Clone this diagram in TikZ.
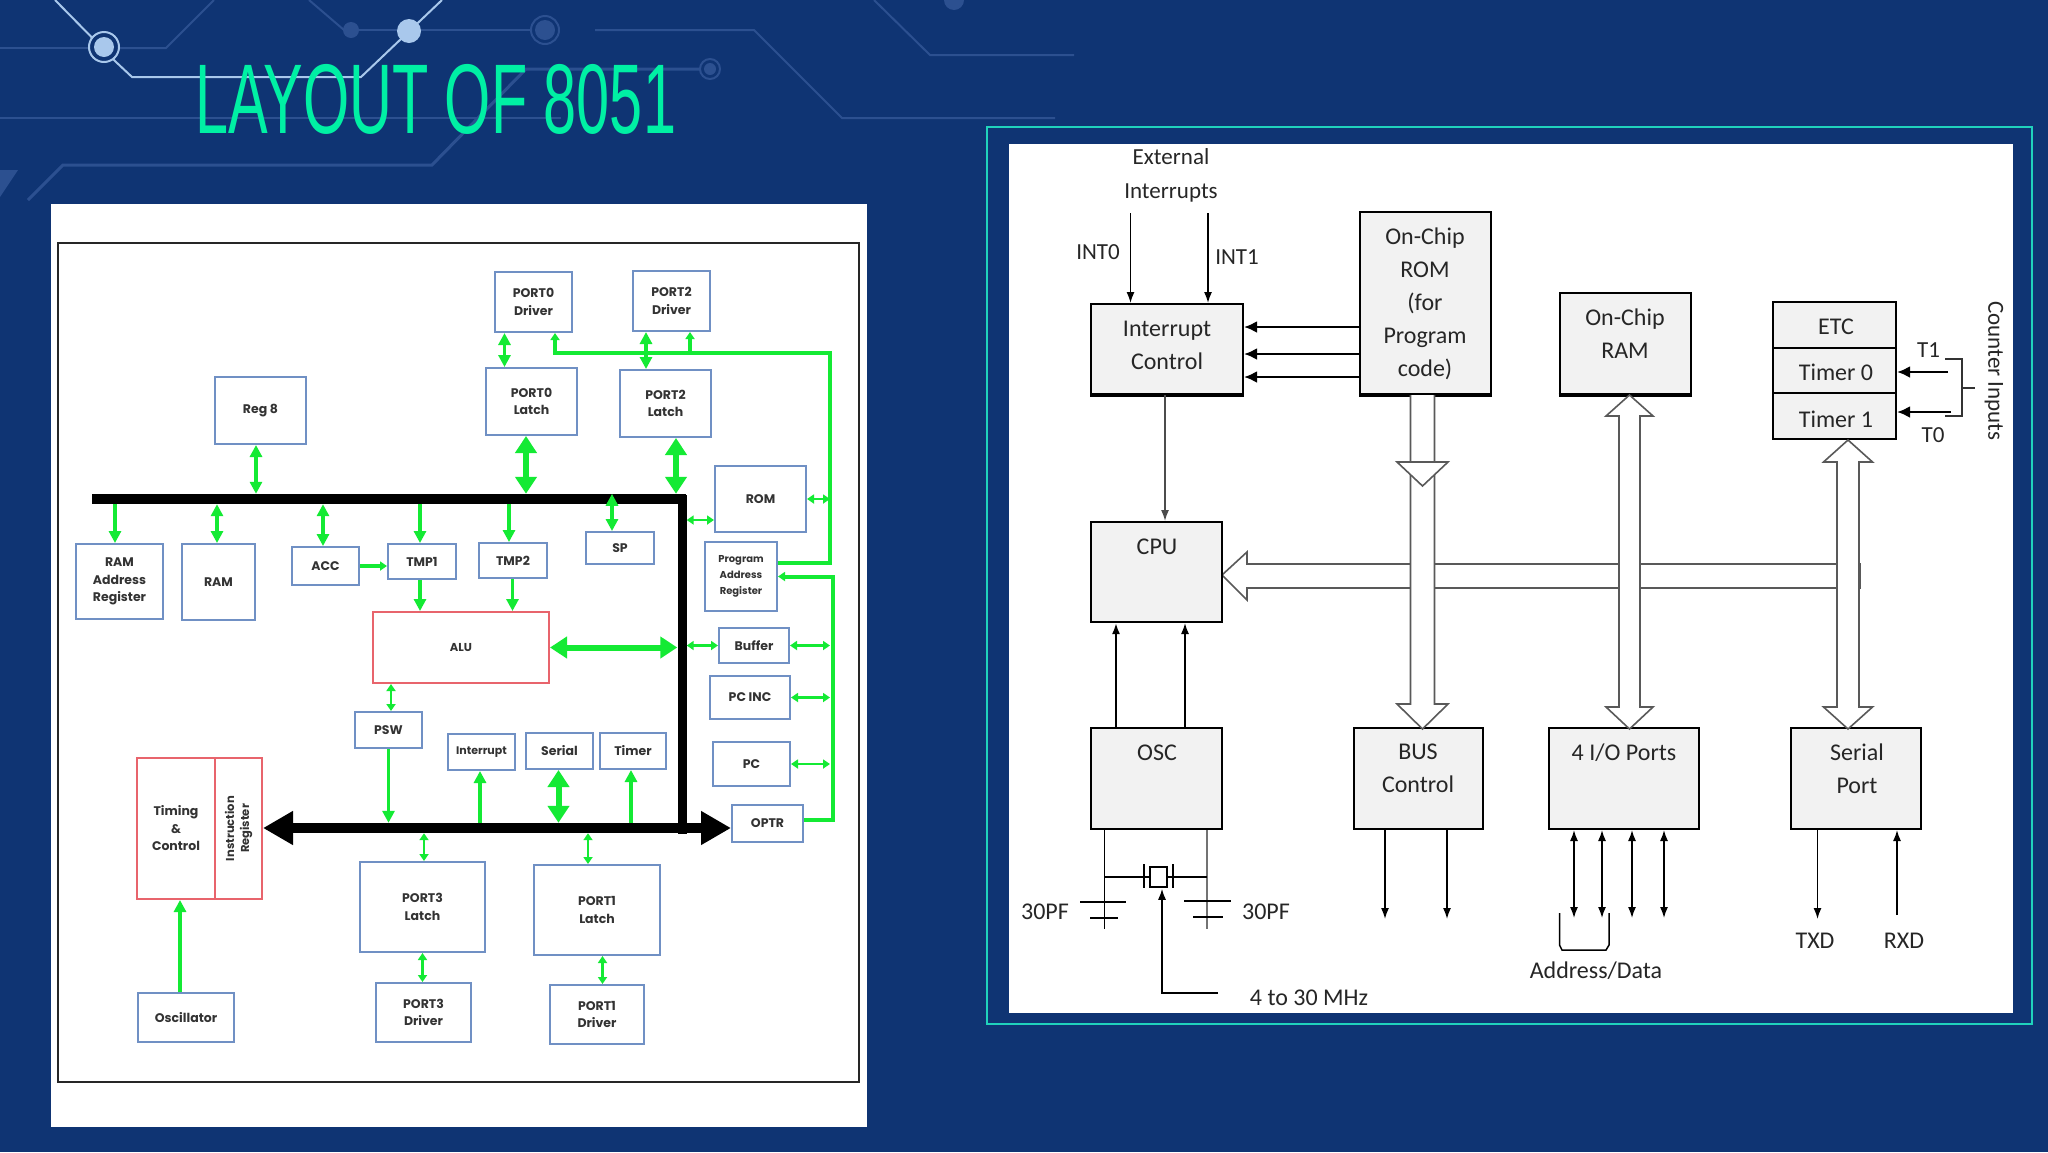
\documentclass[tikz,border=0pt]{standalone}
\usepackage{fontspec}
\usetikzlibrary{arrows.meta, calc}

\newfontfamily\titlefont{Liberation Sans}[FakeStretch=0.6]
\newfontfamily\gothicfont{Poppins}
\newfontfamily\carlitofont{Carlito}

\definecolor{slideBlue}{HTML}{0F3473}
\definecolor{traceDim}{HTML}{2C5090}
\definecolor{traceLit}{HTML}{A9C8EC}
\definecolor{titleGreen}{HTML}{00F0A4}
\definecolor{frameTeal}{HTML}{20D2BC}
\definecolor{boxBlue}{HTML}{7090C4}
\definecolor{boxRed}{HTML}{E8646C}
\definecolor{busGreen}{HTML}{14EA34}

\tikzset{
  GS/.tip={Triangle[length=12pt,width=12pt]},
  GL/.tip={Triangle[length=17pt,width=21pt]},
  GT/.tip={Triangle[length=7pt,width=9pt]},
  BK/.tip={Latex[length=11pt,width=8pt]},
  BB/.tip={Latex[length=13pt,width=12pt]},
  lbox/.style={draw=boxBlue, fill=white, line width=2pt, inner sep=0pt, align=center, text=black!80,
    font=\gothicfont\bfseries\fontsize{12.5}{17.5}\selectfont},
  rbox/.style={draw=black, fill=black!5, line width=2pt, inner sep=0pt},
  rtext/.style={inner sep=0pt, align=center, text=black!85, font=\carlitofont\fontsize{24}{33}\selectfont},
  gline/.style={draw=busGreen, line width=3.5pt},
  gthin/.style={draw=busGreen, line width=2.5pt},
  gthick/.style={draw=busGreen, line width=6pt},
  hollow/.style={draw=black!65, fill=white, line width=1.6pt},
  wire/.style={draw=black, line width=1.5pt},
  trdim/.style={draw=traceDim, line width=2pt},
  trlit/.style={draw=traceLit, line width=2pt},
}

\begin{document}
\begin{tikzpicture}[x=1pt, y=-1pt]
  \fill[slideBlue] (0,0) rectangle (2048,1152);
  \useasboundingbox (0,0) rectangle (2048,1152);

  % Circuit traces behind the title
  \draw[trdim] (0,48) -- (91,48);
  \draw[trdim] (118,48) -- (166,48) -- (214,0);
  \draw[trdim] (309,0) -- (344,30);
  \draw[trdim] (351,30) -- (530,30);
  \draw[trdim] (595,30) -- (754,30) -- (842,118) -- (1055,118);
  \draw[trdim] (0,118) -- (561,118);
  \draw[trdim, line width=3pt] (28,200) -- (63,165) -- (432,165) -- (526,69) -- (700,69);
  \draw[trdim] (874,0) -- (930,55) -- (1074,55);
  \fill[traceDim] (0,170) -- (18,170) -- (0,197) -- cycle;
  \fill[traceDim] (351,30) circle (8);
  \draw[traceDim, line width=2pt, fill=slideBlue] (545,30) circle (14);
  \fill[traceDim] (545,30) circle (10);
  \draw[traceDim, line width=2pt] (710,69) circle (10);
  \fill[traceDim] (710,69) circle (6);
  \fill[traceDim] (954,0) circle (10);
  \draw[trlit] (55,0) -- (116,62) -- (132,77) -- (361,77) -- (442,0);
  \draw[traceLit, line width=2pt, fill=slideBlue] (104,47) circle (15);
  \fill[traceLit] (104,47) circle (10);
  \fill[traceLit] (409,31) circle (12);

  % Title
  \node[anchor=base west, inner sep=0pt, text=titleGreen, font=\titlefont\fontsize{99}{99}\selectfont] (title) at (195,133) {LAYOUT OF 8051};

  % Left panel
  \fill[white] (51,204) rectangle (867,1127);
  \draw[black!85, line width=2.5pt] (58,243) rectangle (859,1082);

  % Blue boxes
  \foreach \nm/\cx/\cy/\bw/\bh/\txt in {
    port0drv/533.5/302/77/60/{PORT0\\Driver}, port2drv/671.5/301/77/60/{PORT2\\Driver},
    port0lat/531.5/401.5/91/67/{PORT0\\Latch}, port2lat/665.5/403.5/91/67/{PORT2\\Latch},
    reg8/260.5/410.5/91/67/{Reg 8}, lrom/760.5/499/91/66/{ROM},
    buffer/754/645.5/70/35/{Buffer},
    ramadr/119.5/581.5/87/75/{RAM\\Address\\Register}, lram/218.5/582/73/76/{RAM},
    acc/325.5/566/67/38/{ACC}, tmp1/422/561.5/68/35/{TMP1}, tmp2/513/560.5/68/35/{TMP2},
    spreg/620/548/68/32/{SP}, pcinc/750/697.5/80/43/{PC INC}, pcreg/751.5/764/77/44/{PC},
    optr/767.5/823.5/71/37/{OPTR}, psw/388.5/730/67/36/{PSW},
    serial/559.5/751/67/36/{Serial}, timer/633/751/66/36/{Timer},
    port3lat/422.5/907/125/90/{PORT3\\Latch}, port1lat/597/910/126/90/{PORT1\\Latch},
    port3drv/423.5/1012.5/95/59/{PORT3\\Driver}, port1drv/597/1014.5/94/59/{PORT1\\Driver},
    oscil/186/1017.5/96.5/49/{Oscillator}} {
    \node[lbox, minimum width=\bw pt, minimum height=\bh pt] (\nm) at (\cx,\cy) {\txt};
  }
  \node[lbox, minimum width=72pt, minimum height=69pt, font=\gothicfont\bfseries\fontsize{10}{16}\selectfont] (par) at (741,576.5) {Program\\Address\\Register};
  \node[lbox, minimum width=67pt, minimum height=36pt, font=\gothicfont\bfseries\fontsize{11}{14}\selectfont] (intr) at (481.5,752) {Interrupt};

  % Red boxes
  \node[lbox, draw=boxRed, minimum width=176pt, minimum height=71pt, font=\gothicfont\bfseries\fontsize{11.5}{14}\selectfont] (alu) at (461,647.5) {ALU};
  \node[lbox, draw=boxRed, minimum width=77.5pt, minimum height=141pt] (timing) at (176,828.5) {Timing\\\&\\Control};
  \node[lbox, draw=boxRed, minimum width=47pt, minimum height=141pt] (instr) at (238.5,828.5) {};
  \node[rotate=90, inner sep=0pt, align=center, text=black!80, font=\gothicfont\bfseries\fontsize{11.5}{15}\selectfont] (instrtxt) at (instr.center) {Instruction\\Register};

  % Black buses
  \node[fill=black, inner sep=0pt, minimum width=594pt, minimum height=10pt] (busT) at (389,499) {};
  \node[fill=black, inner sep=0pt, minimum width=9pt, minimum height=339pt] (busV) at (682,664) {};
  \node[fill=black, inner sep=0pt, minimum width=410pt, minimum height=10pt] (busL) at (495,828) {};
  \draw[line width=10pt, -{Triangle[length=30pt,width=32pt]}] (busL.west) -- (instr.east |- busL.west);
  \draw[line width=10pt, -{Triangle[length=30pt,width=32pt]}] (busL.east) -- (optr.west |- busL.east);

  % Green rails on the right
  \coordinate (railTop) at (830,353);
  \coordinate (railLow) at (833,577);
  \draw[gline, line width=4pt, GT-] ([xshift=21.5pt]port0drv.south) |- (railTop) |- ([yshift=13.5pt]par.east);
  \draw[gline, line width=4pt, GT-] (par.east) -| (railLow) |- ([yshift=3.5pt]optr.east);
  \draw[gline, GT-] ([xshift=18.5pt]port2drv.south) -- ([xshift=18.5pt]port2drv.south |- railTop);

  % Green vertical arrows
  \foreach \from/\to/\dx/\sty in {
    port0drv.south/port0lat.north/-29/GS-GS, port2drv.south/port2lat.north/-25.5/GS-GS,
    reg8.south/busT.north/-4.5/GS-GS, ramadr.north/busT.south/-4.5/GS-,
    lram.north/busT.south/-1.5/GS-GS, acc.north/busT.south/-2.5/GS-GS,
    tmp1.north/busT.south/-2/GS-, tmp2.north/busT.south/-4/GS-,
    spreg.north/busT.north/-8/GS-GS, tmp1.south/alu.north/-2/-GS, tmp2.south/alu.north/-0.5/-GS,
    psw.south/busL.north/0/-GS, intr.south/busL.north/-1.5/GS-, timer.south/busL.north/-2/GS-,
    oscil.north/timing.south/-6/-GS} {
    \draw[gline, \sty] ([xshift=\dx pt]\from) -- ([xshift=\dx pt]\from |- \to);
  }
  \foreach \from/\to/\dx in {
    port0lat.south/busT.north/-5.5, port2lat.south/busT.north/10.5, serial.south/busL.north/-1} {
    \draw[gthick, GL-GL] ([xshift=\dx pt]\from) -- ([xshift=\dx pt]\from |- \to);
  }
  \foreach \from/\to/\dx in {
    psw.north/alu.south/2.5, port3lat.north/busL.south/1.5, port1lat.north/busL.south/-9,
    port3lat.south/port3drv.north/0, port1lat.south/port1drv.north/5.5} {
    \draw[gthin, GT-GT] ([xshift=\dx pt]\from) -- ([xshift=\dx pt]\from |- \to);
  }

  % Green horizontal arrows
  \draw[gline, -GT] (acc.east) -- (tmp1.west |- acc.east);
  \draw[gthick, GL-GL] (alu.east) -- (busV.west |- alu.east);
  \draw[gthin, GT-GT] (busV.east |- 0,520) -- (lrom.west |- 0,520);
  \draw[gthin, GT-GT] (busV.east |- buffer.west) -- (buffer.west);
  \foreach \from in {lrom, buffer, pcinc, pcreg} {
    \draw[gthin, GT-GT] (\from.east) -- (\from.east -| railTop);
  }

  % Right panel
  \fill[white] (1009,144) rectangle (2013,1013);
  \draw[frameTeal, line width=2pt] (987,127) rectangle (2032,1024);

  % Hollow bus between CPU and the blocks
  \draw[hollow] (1860,564) -- (1247,564) -- (1247,552) -- (1222,575) -- (1247,600) -- (1247,588) -- (1860,588) -- cycle;

  % Grey boxes of the block diagram
  \foreach \nm/\cx/\cy/\bw/\bh in {
    ic/1167/349/152/90, rom/1425.5/303/131/182, oram/1625/343.5/131/101,
    etc/1834.5/325/123/46, tmr0/1834.5/370.5/123/45, tmr1/1834.5/416/123/46,
    cpu/1156.5/572/131/100, osc/1156.5/778.5/131/101, busc/1418.5/778.5/129/101,
    ports/1624/778.5/150/101, ser/1856/778.5/130/101} {
    \node[rbox, minimum width=\bw pt, minimum height=\bh pt] (\nm) at (\cx,\cy) {};
  }
  \foreach \bx in {ic, rom, oram} {
    \draw[line width=4pt] (\bx.south west) -- (\bx.south east);
  }
  \node[rtext] (ictxt) at (1167,345.5) {Interrupt\\Control};
  \node[rtext] (romtxt) at (1425,303.5) {On-Chip\\ROM\\(for\\Program\\code)};
  \node[rtext] (oramtxt) at (1625,333.5) {On-Chip\\RAM};
  \node[rtext] (etctxt) at (1836,327) {ETC};
  \node[rtext] (tmr0txt) at (1836,372) {Timer 0};
  \node[rtext] (tmr1txt) at (1836,419) {Timer 1};
  \node[rtext] (cputxt) at (1157,547) {CPU};
  \node[rtext] (osctxt) at (1157,753) {OSC};
  \node[rtext] (busctxt) at (1418,768.5) {BUS\\Control};
  \node[rtext] (portstxt) at (1624,753) {4 I/O Ports};
  \node[rtext] (sertxt) at (1857,768.5) {Serial\\Port};

  % Hollow vertical arrows
  \draw[hollow] ([xshift=-15pt]rom.south) -- ++(0,309) -- ++(-13.5,0) -- ++(25.5,25) -- ++(25.5,-25) -- ++(-13.5,0) -- ([xshift=9pt]rom.south);
  \draw[hollow] ([xshift=-28.5pt]rom.south) ++(0,67) -- ++(25.5,24) -- ++(25.5,-24) -- cycle;
  \draw[hollow, fill=white] (oram.south) ++(4.5,0) -- ++(23.5,21) -- ++(-13,0) -- ++(0,291) -- ++(13,0) -- ++(-23.5,22) -- ++(-23.5,-22) -- ++(13,0) -- ++(0,-291) -- ++(-13,0) -- cycle;
  \draw[hollow, fill=white] (tmr1.south) ++(13.5,0) -- ++(24.5,22) -- ++(-13.5,0) -- ++(0,245) -- ++(13.5,0) -- ++(-24.5,22) -- ++(-24.5,-22) -- ++(13.5,0) -- ++(0,-245) -- ++(-13.5,0) -- cycle;

  % External interrupts
  \node[rtext, font=\carlitofont\fontsize{23}{34}\selectfont] (extint) at (1171,175) {External\\Interrupts};
  \coordinate (int0in) at (1130.5,213);
  \coordinate (int1in) at (1208,213);
  \draw[wire, -BK] (int0in) -- (int0in |- ic.north);
  \draw[wire, -BK] (int1in) -- (int1in |- ic.north);
  \node[rtext, font=\carlitofont\fontsize{23}{33}\selectfont] (int0txt) at (1098,252) {INT0};
  \node[rtext, font=\carlitofont\fontsize{23}{33}\selectfont] (int1txt) at (1237,257) {INT1};

  % Block connections
  \foreach \y in {327,354,377} {
    \draw[wire, line width=2.5pt, -BB] (rom.west |- 0,\y) -- (ic.east |- 0,\y);
  }
  \draw[wire, draw=black!70, -BK] ([xshift=-2pt]ic.south) -- ([xshift=-2pt]ic.south |- cpu.north);
  \draw[wire, line width=2pt, -BK] ([xshift=-40.5pt]osc.north) -- ([xshift=-40.5pt]osc.north |- cpu.south);
  \draw[wire, -BK] ([xshift=28.5pt]osc.north) -- ([xshift=28.5pt]osc.north |- cpu.south);

  % Timer inputs
  \coordinate (t1in) at (1948,372);
  \coordinate (t0in) at (1951,412);
  \draw[wire, line width=2.5pt, -BB] (t1in) -- (t1in -| tmr0.east);
  \draw[wire, line width=2.5pt, -BB] (t0in) -- (t0in -| tmr1.east);
  \draw[black!80, line width=1.2pt] (1945,359) -- (1962,359) -- (1962,416) -- (1945,416) (1962,388) -- (1975,388);
  \node[rtext, font=\carlitofont\fontsize{23}{33}\selectfont] (t1txt) at (1928.5,350) {T1};
  \node[rtext, font=\carlitofont\fontsize{23}{33}\selectfont] (t0txt) at (1933,435) {T0};
  \node[rtext, rotate=-90, font=\carlitofont\fontsize{23}{33}\selectfont] (cntin) at (1994,371) {Counter Inputs};

  % Crystal and capacitors
  \coordinate (xtalL) at ([xshift=-52pt]osc.south);
  \coordinate (xtalR) at ([xshift=50.5pt]osc.south);
  \draw[wire] (xtalL) -- ++(0,99);
  \draw[wire, draw=black!55] (xtalR) -- ++(0,99);
  \draw[wire] (xtalL |- 0,877) -- (xtalR |- 0,877);
  \node[draw=black, fill=white, line width=1.5pt, inner sep=0pt, minimum width=17pt, minimum height=20pt] (xtal) at (1158.5,877) {};
  \draw[wire] (1144,864) -- (1144,888) (1173,864) -- (1173,888);
  \draw[wire] (1080,902) -- (1126,902) (1090,918) -- (1118,918);
  \draw[wire] (1184,901) -- (1230.5,901) (1193,917) -- (1223,917);
  \node[rtext] (capLtxt) at (1045,912) {30PF};
  \node[rtext] (capRtxt) at (1266,912) {30PF};
  \coordinate (clkin) at (1218,993);
  \draw[wire, -BK] (clkin) -- (1162,993) -- ([xshift=3.5pt,yshift=-1pt]xtal.south);
  \node[rtext] (clktxt) at (1309,998) {4 to 30 MHz};

  % Outgoing lines
  \draw[wire, -BK] ([xshift=-33.5pt]busc.south) -- ++(0,89);
  \draw[wire, -BK] ([xshift=28.5pt]busc.south) -- ++(0,89);
  \foreach \dx in {-50,-22,8,40} {
    \draw[wire, BK-BK] ([xshift=\dx pt]ports.south) -- ++(0,88);
  }
  \draw[wire] (1559.5,913) -- (1559.5,945) -- (1562,950) -- (1606,950) -- (1609,945) -- (1609,913);
  \node[rtext] (adrtxt) at (1596,971) {Address/Data};
  \draw[wire, -BK] ([xshift=-38.5pt]ser.south) -- ++(0,89);
  \coordinate (rxdin) at (1897,915);
  \draw[wire, -BK] (rxdin) -- (rxdin |- ser.south);
  \node[rtext] (txdtxt) at (1815,941) {TXD};
  \node[rtext] (rxdtxt) at (1904,941) {RXD};
\end{tikzpicture}
\end{document}
